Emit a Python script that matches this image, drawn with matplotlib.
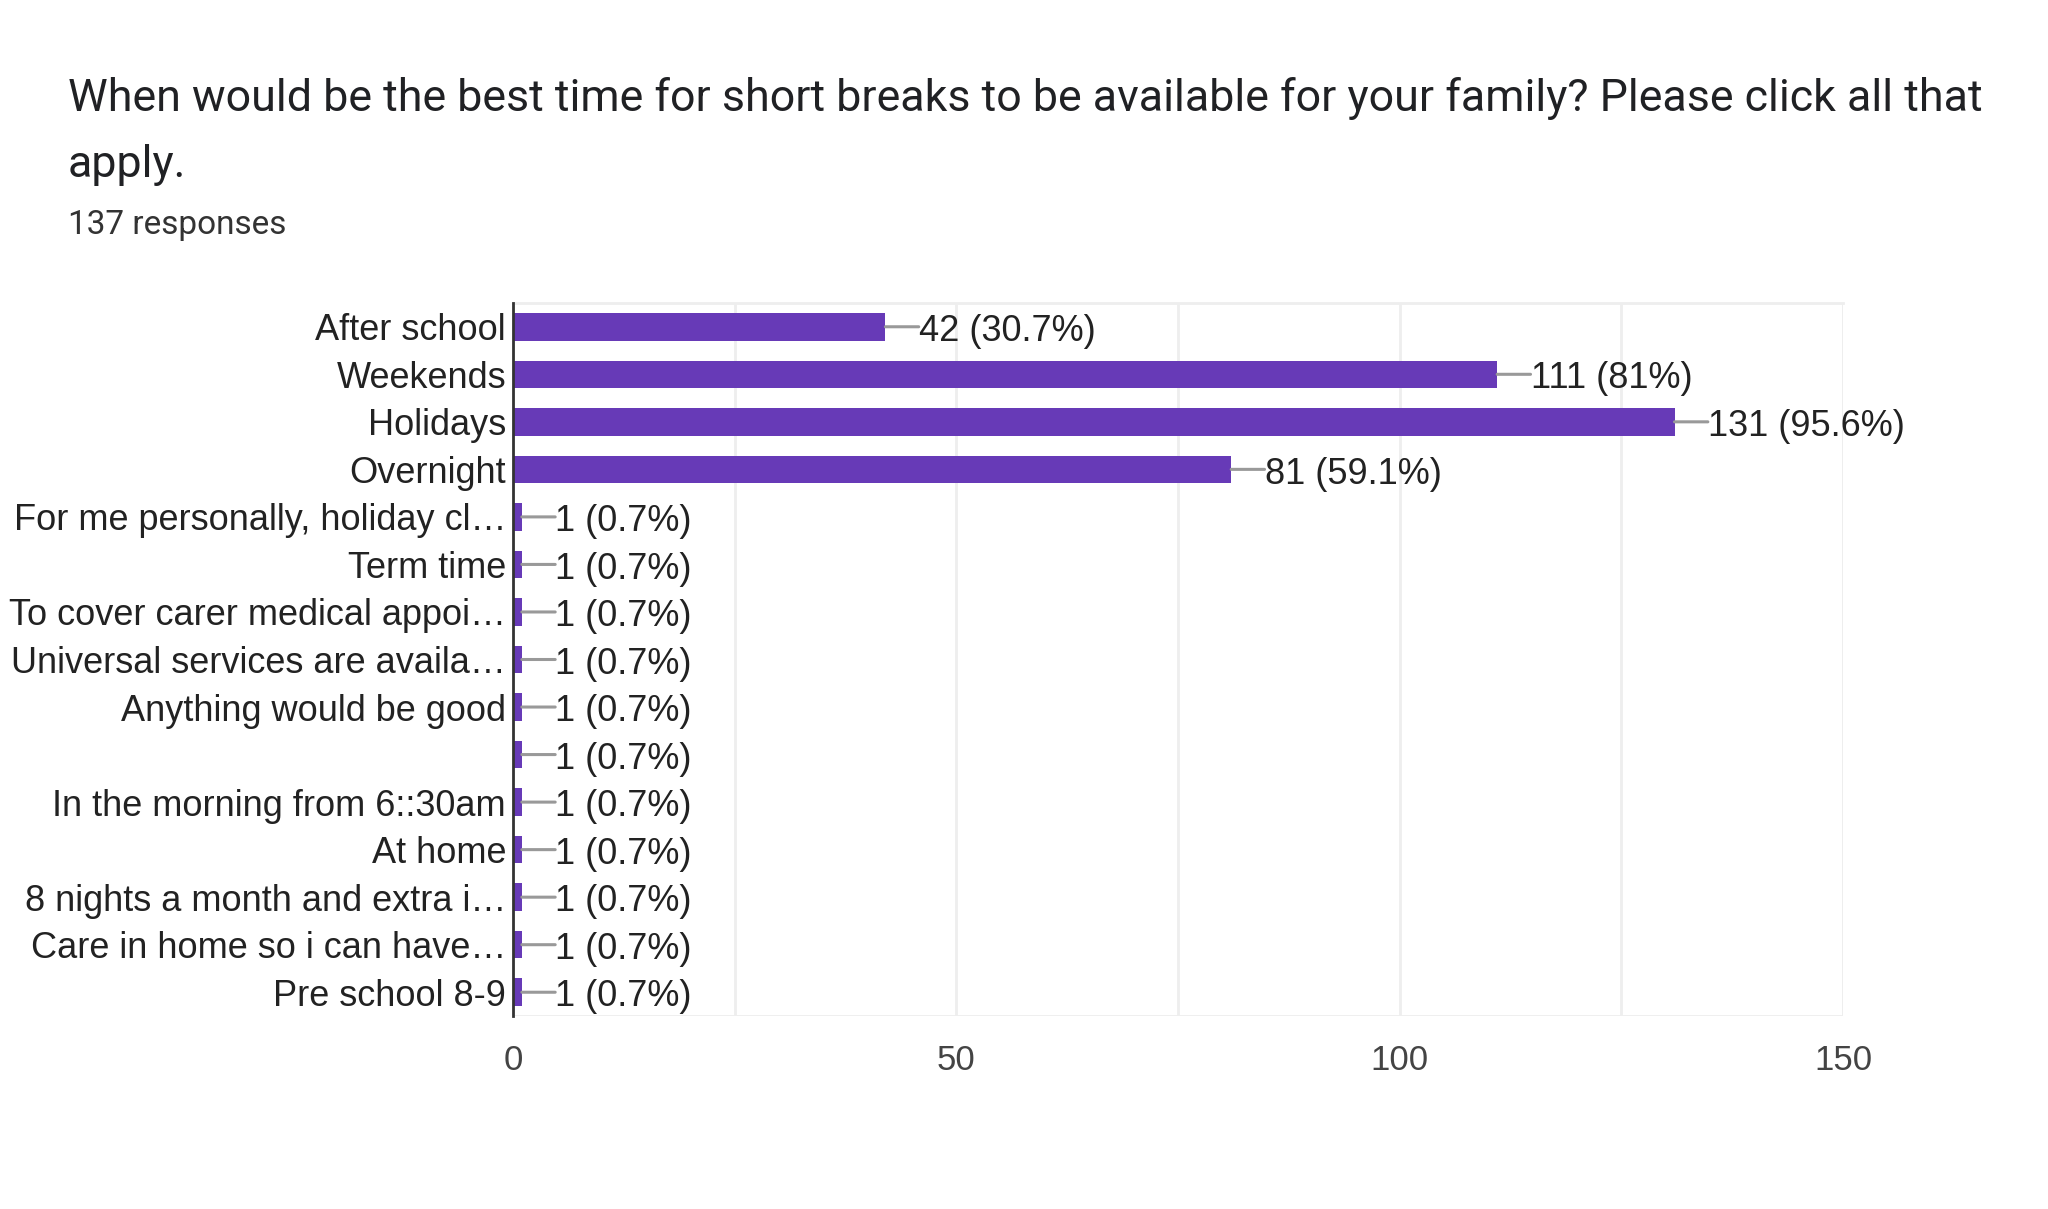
import matplotlib
matplotlib.use("Agg")
import matplotlib.pyplot as plt
import numpy as np

plt.rcParams["font.family"] = ["Liberation Sans", "DejaVu Sans"]

TITLE_LINE1 = ("When would be the best time for short breaks to be available for your family? "
               "Please click all that")
TITLE_LINE2 = "apply."
SUBTITLE = "137 responses"

categories = [
    "After school",
    "Weekends",
    "Holidays",
    "Overnight",
    "For me personally, holiday cl…",
    "Term time",
    "To cover carer medical appoi…",
    "Universal services are availa…",
    "Anything would be good",
    "",
    "In the morning from 6::30am",
    "At home",
    "8 nights a month and extra i…",
    "Care in home so i can have…",
    "Pre school 8-9",
]
counts = [42, 111, 131, 81, 1, 1, 1, 1, 1, 1, 1, 1, 1, 1, 1]
percents = ["30.7%", "81%", "95.6%", "59.1%"] + ["0.7%"] * 11

BAR_COLOR = "#673AB7"

fig = plt.figure(figsize=(20.48, 12.09), dpi=100)
ax = fig.add_axes([513 / 2048, 1 - 1016 / 1209, 1330 / 2048, 713 / 1209])

y = np.arange(len(categories))
ax.barh(y, counts, height=0.58, color=BAR_COLOR, zorder=3)

for yi, c, p in zip(y, counts, percents):
    # grey leader line from bar end to the value label
    ax.annotate(
        "", xy=(c, yi), xytext=(24, 0), textcoords="offset points",
        arrowprops=dict(arrowstyle="-", color="#999999", lw=2.2,
                        shrinkA=0, shrinkB=0),
        zorder=4,
    )
    ax.annotate(
        f"{c} ({p})", xy=(c, yi), xytext=(24, -0.5), textcoords="offset points",
        va="center_baseline", ha="left", fontsize=26, color="#222222", zorder=4,
    )

ax.set_ylim(len(categories) - 0.5, -0.5)
ax.set_xlim(0, 150)
ax.set_yticks(y)
ax.set_yticklabels(categories, fontsize=26, color="#222222")
for lbl in ax.get_yticklabels():
    lbl.set_verticalalignment("center_baseline")
ax.set_xticks([0, 50, 100, 150])
ax.set_xticks([25, 75, 125], minor=True)
ax.tick_params(axis="x", which="both", length=0, pad=20, labelsize=25, labelcolor="#444444")
ax.tick_params(axis="y", length=0, pad=5)

ax.grid(axis="x", which="both", color="#eeeeee", lw=2, zorder=0)
for side in ["right", "bottom"]:
    ax.spines[side].set_visible(False)
ax.spines["top"].set_color("#eeeeee")
ax.spines["top"].set_linewidth(2)
ax.spines["left"].set_color("#333333")
ax.spines["left"].set_linewidth(2)
ax.spines["left"].set_zorder(5)

# light frame at bottom and right
ax.axhline(len(categories) - 0.5, color="#eeeeee", lw=2, zorder=1)
ax.axvline(150, color="#eeeeee", lw=2, zorder=1)

fig.text(68 / 2048, 1 - 99 / 1209, TITLE_LINE1, fontsize=32.2, color="#202124",
         va="center", ha="left", family=["Roboto", "DejaVu Sans"])
fig.text(68 / 2048, 1 - 165 / 1209, TITLE_LINE2, fontsize=32.2, color="#202124",
         va="center", ha="left", family=["Roboto", "DejaVu Sans"])
fig.text(68 / 2048, 1 - 225 / 1209, SUBTITLE, fontsize=24, color="#333333",
         va="center", ha="left", family=["Roboto", "DejaVu Sans"])

fig.savefig("out.png", dpi=100, facecolor="white")
